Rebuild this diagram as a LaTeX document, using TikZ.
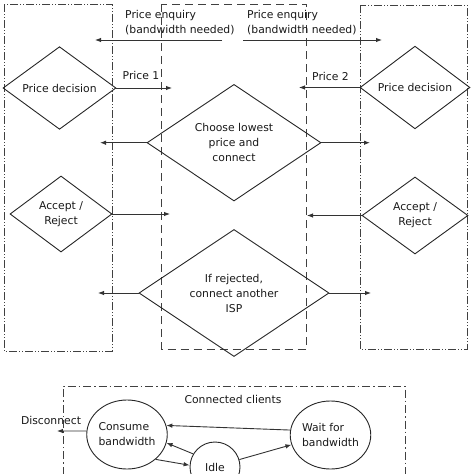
\documentclass[tikz,border=0pt]{standalone}
\usepackage{fontspec}
\setmainfont{DejaVu Sans}
\usetikzlibrary{shapes.geometric,arrows.meta}
\begin{document}
\begin{tikzpicture}[x=1pt,y=-1pt,
  every node/.style={font=\fontsize{10.8}{15}\selectfont, text=black!90},
  dec/.style={diamond, draw=black!85, line width=0.9pt, inner sep=0pt, align=center},
  st/.style={ellipse, draw=black!85, line width=0.9pt, inner sep=0pt, align=left},
  arr/.style={draw=black!80, line width=0.9pt, -{Latex[length=6pt,width=4.5pt]}},
  ddbox/.style={draw=black!75, line width=0.9pt, dash pattern=on 8pt off 2pt on 1pt off 2pt on 1pt off 2pt},
  dashbox/.style={draw=black!75, line width=0.9pt, dash pattern=on 8pt off 5pt},
  dbox/.style={draw=black!75, line width=0.9pt, dash pattern=on 8pt off 3pt on 1.5pt off 3pt},
  lbl/.style={inner sep=0pt}
]
\useasboundingbox (0,0) rectangle (474,474);
% swimlane boxes
\draw[ddbox] (4,4) rectangle (112,351);
\draw[dashbox] (161.5,4) rectangle (306.5,349);
\draw[ddbox] (360,5) rectangle (467,349);
\draw[dbox] (63,490) -- (63,386) -- (405,386) -- (405,490);

% top enquiry arrows
\node[lbl, align=left, anchor=west] (pe1) at (125,23) {Price enquiry\\(bandwidth needed)};
\node[lbl, align=left, anchor=west] (pe2) at (247,23) {Price enquiry\\(bandwidth needed)};
\coordinate (q1s) at (222,40);
\coordinate (q1e) at (95,40);
\coordinate (q2s) at (243,40);
\coordinate (q2e) at (382,40);
\draw[arr] (q1s) -- (q1e);
\draw[arr] (q2s) -- (q2e);

% diamonds
\node[dec, minimum width=113pt, minimum height=74pt] (pd1) at (59.5,88) {Price decision};
\node[dec, minimum width=110pt, minimum height=78pt] (pd2) at (415,87.5) {Price decision};
\node[dec, minimum width=174pt, minimum height=105pt] (ch) at (234,142.7) {Choose lowest\\price and\\connect};
\node[dec, minimum width=102pt, minimum height=76pt] (ar1) at (61,214) {Accept /\\Reject};
\node[dec, minimum width=106pt, minimum height=77pt] (ar2) at (415,215.5) {Accept /\\Reject};
\node[dec, minimum width=190pt, minimum height=110pt] (ir) at (234,293) {If rejected,\\connect another\\ISP};

% price arrows
\coordinate (p1e) at (172,88);
\coordinate (p2e) at (299,87.5);
\draw[arr] (pd1.east) -- (p1e);
\draw[arr] (pd2.west) -- (p2e);
\node[lbl] (pl1) at (141,75) {Price 1};
\node[lbl] (pl2) at (330.5,76.5) {Price 2};

\coordinate (chl) at (100,142.7);
\coordinate (chr) at (370,142.7);
\draw[arr] (ch.west) -- (chl);
\draw[arr] (ch.east) -- (chr);

\coordinate (a1e) at (170,214);
\coordinate (a2e) at (307,215.5);
\draw[arr] (ar1.east) -- (a1e);
\draw[arr] (ar2.west) -- (a2e);

\coordinate (irl) at (98,293);
\coordinate (irr) at (371,293);
\draw[arr] (ir.west) -- (irl);
\draw[arr] (ir.east) -- (irr);

% connected clients
\node[lbl] (cc) at (233,399) {Connected clients};
\node[st, minimum width=78pt, minimum height=69pt] (cb) at (127,434.5) {Consume\\bandwidth};
\node[st, minimum width=50pt, minimum height=50pt] (idle) at (215,467) {Idle};
\node[st, minimum width=79pt, minimum height=68pt] (wb) at (330.5,435) {Wait for\\bandwidth};
\draw[arr] (wb.173) -- (cb.13);
\draw[arr] (idle.149) -- (cb.348);
\draw[arr] (cb.319) -- (idle.176);
\draw[arr] (idle.17) -- (wb.194);
\coordinate (dc) at (57,431);
\draw[arr] (cb.175) -- (dc);
\node[lbl] (dcl) at (51,420.7) {Disconnect};
\end{tikzpicture}
\end{document}
